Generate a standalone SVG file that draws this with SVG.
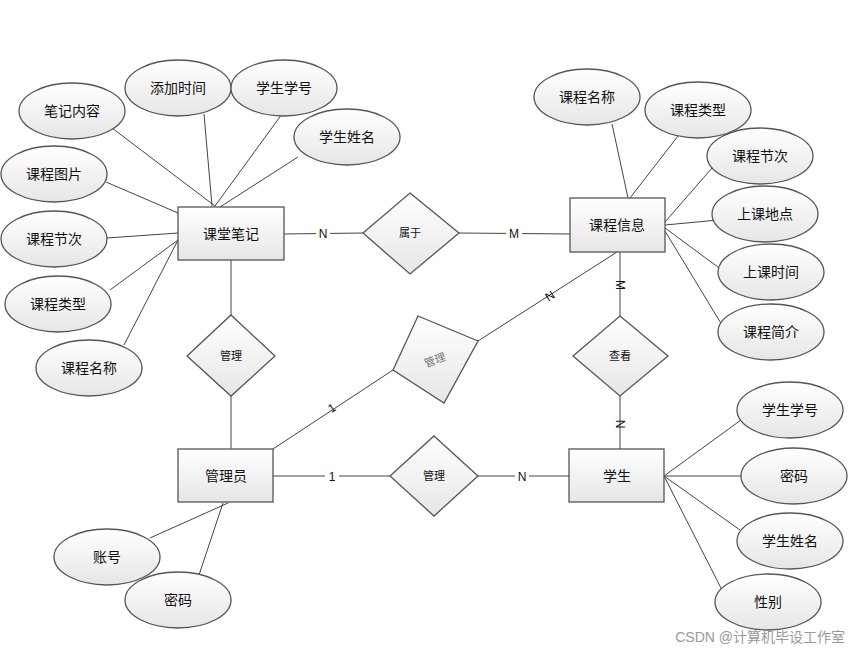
<svg xmlns="http://www.w3.org/2000/svg" width="852" height="652" viewBox="0 0 852 652">
<defs>
<linearGradient id="g" x1="0" y1="0" x2="0" y2="1"><stop offset="0" stop-color="#ffffff"/><stop offset="1" stop-color="#e6e6e6"/></linearGradient>
<style>
.s{fill:url(#g);stroke:#555;stroke-width:1.3}
.t{font-family:"Liberation Sans","Noto Sans CJK SC",sans-serif;font-size:14px;fill:#111;text-anchor:middle;dominant-baseline:central}
.r{font-size:11px}
.l{stroke:#444;stroke-width:1;fill:none}
.lb{font-family:"Liberation Sans",sans-serif;font-size:12px;fill:#111;text-anchor:middle;dominant-baseline:central}
</style>
</defs>
<rect width="852" height="652" fill="#fff"/>
<g id="connectors">
<path class="l" d="M112,128L215,206M204,114L212,206M282,114L215,206M298,157L220,207M106,182L178,213M107,238L178,233M110,290L178,240M124,345L178,240"/>
<path class="l" d="M612,124L628,198M678,136L630,198M712,168L665,222M718,220L665,225M722,270L665,228M722,325L665,231"/>
<path class="l" d="M741,420L664,476M742,476L664,476M740,530L664,476M722,590L664,476"/>
<path class="l" d="M150,538L228,503M199,575L223,503"/>
<path class="l" d="M284,234L363,233M459,233L570,234M478,341L617,252M620,252L620,316M620,396L620,449M231,260L231,316M231,396L231,449M273,449L393,370M273,476L390,476M478,476L569,476"/>
<g fill="#fff"><rect x="316" y="226" width="14" height="16"/><rect x="506" y="226" width="16" height="16"/><rect x="325" y="469" width="14" height="16"/><rect x="515" y="469" width="14" height="16"/></g>
<text class="lb" x="323" y="234">N</text><text class="lb" x="514" y="234">M</text>
<text class="lb" x="332" y="477">1</text><text class="lb" x="522" y="477">N</text>
<text class="lb" x="550" y="296" transform="rotate(-33 550 296)">N</text>
<text class="lb" x="332" y="408" transform="rotate(-33 332 408)">1</text>
<text class="lb" x="620" y="285" transform="rotate(90 620 285)">M</text>
<text class="lb" x="620" y="424" transform="rotate(90 620 424)">N</text>
</g>
<g id="kt"><rect class="s" x="178" y="207" width="106" height="53"/><text class="t" x="231" y="234">课堂笔记</text></g>
<g id="kc"><rect class="s" x="570" y="198" width="95" height="54"/><text class="t" x="617" y="225">课程信息</text></g>
<g id="gl"><rect class="s" x="178" y="449" width="95" height="53"/><text class="t" x="226" y="476">管理员</text></g>
<g id="xs"><rect class="s" x="569" y="449" width="95" height="53"/><text class="t" x="617" y="476">学生</text></g>
<g id="sy"><polygon class="s" points="410,193 459,233 410,274 363,233"/><text class="t r" x="410" y="233">属于</text></g>
<g id="gl1"><polygon class="s" points="231,315 275,356 231,396 187,356"/><text class="t r" x="231" y="356">管理</text></g>
<g id="gl2"><polygon class="s" points="418,316 478,341 444,403 393,370"/><text class="t r" x="435" y="360" fill="#777" style="fill:#777" transform="rotate(-20 435 360)">管理</text></g>
<g id="gl3"><polygon class="s" points="434,436 478,476 434,516 390,476"/><text class="t r" x="434" y="476">管理</text></g>
<g id="ck"><polygon class="s" points="620,316 668,356 620,396 573,356"/><text class="t r" x="620" y="356">查看</text></g>
<g id="a1"><ellipse class="s" cx="72" cy="111" rx="53" ry="28"/><text class="t" x="72" y="111">笔记内容</text></g>
<g id="a2"><ellipse class="s" cx="178" cy="88" rx="53" ry="28"/><text class="t" x="178" y="88">添加时间</text></g>
<g id="a3"><ellipse class="s" cx="284" cy="88" rx="53" ry="28"/><text class="t" x="284" y="88">学生学号</text></g>
<g id="a4"><ellipse class="s" cx="347" cy="137" rx="53" ry="28"/><text class="t" x="347" y="137">学生姓名</text></g>
<g id="a5"><ellipse class="s" cx="54" cy="174" rx="53" ry="28"/><text class="t" x="54" y="174">课程图片</text></g>
<g id="a6"><ellipse class="s" cx="54" cy="239" rx="53" ry="28"/><text class="t" x="54" y="239">课程节次</text></g>
<g id="a7"><ellipse class="s" cx="58" cy="304" rx="53" ry="28"/><text class="t" x="58" y="304">课程类型</text></g>
<g id="a8"><ellipse class="s" cx="89" cy="368" rx="53" ry="28"/><text class="t" x="89" y="368">课程名称</text></g>
<g id="b1"><ellipse class="s" cx="587" cy="97" rx="53" ry="28"/><text class="t" x="587" y="97">课程名称</text></g>
<g id="b2"><ellipse class="s" cx="698" cy="110" rx="53" ry="28"/><text class="t" x="698" y="110">课程类型</text></g>
<g id="b3"><ellipse class="s" cx="760" cy="156" rx="53" ry="28"/><text class="t" x="760" y="156">课程节次</text></g>
<g id="b4"><ellipse class="s" cx="765" cy="214" rx="53" ry="28"/><text class="t" x="765" y="214">上课地点</text></g>
<g id="b5"><ellipse class="s" cx="771" cy="272" rx="53" ry="28"/><text class="t" x="771" y="272">上课时间</text></g>
<g id="b6"><ellipse class="s" cx="771" cy="332" rx="53" ry="28"/><text class="t" x="771" y="332">课程简介</text></g>
<g id="c1"><ellipse class="s" cx="790" cy="410" rx="53" ry="28"/><text class="t" x="790" y="410">学生学号</text></g>
<g id="c2"><ellipse class="s" cx="794" cy="476" rx="53" ry="28"/><text class="t" x="794" y="476">密码</text></g>
<g id="c3"><ellipse class="s" cx="790" cy="541" rx="53" ry="28"/><text class="t" x="790" y="541">学生姓名</text></g>
<g id="c4"><ellipse class="s" cx="768" cy="602" rx="53" ry="28"/><text class="t" x="768" y="602">性别</text></g>
<g id="d1"><ellipse class="s" cx="107" cy="557" rx="53" ry="28"/><text class="t" x="107" y="557">账号</text></g>
<g id="d2"><ellipse class="s" cx="178" cy="600" rx="53" ry="28"/><text class="t" x="178" y="600">密码</text></g>
<text x="845" y="642" style="font-family:'Liberation Sans','Noto Sans CJK SC',sans-serif;font-size:14px;fill:#999;text-anchor:end">CSDN @计算机毕设工作室</text>
</svg>
